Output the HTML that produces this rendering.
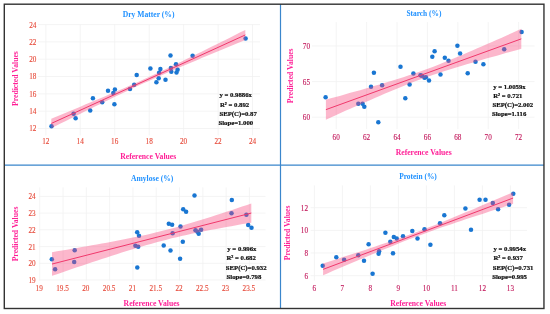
<!DOCTYPE html>
<html lang="en"><head><meta charset="utf-8"><title>Predicted vs Reference Values</title>
<style>html,body{margin:0;padding:0;background:#fff}body{width:550px;height:314px;overflow:hidden}svg{display:block}text{font-family:"Liberation Serif","DejaVu Serif",serif}.t{font-weight:bold;text-anchor:middle}.l{font-weight:bold;text-anchor:middle;font-size:7.7px}.k{font-size:7.2px;stroke-width:0.12px}.n{font-weight:bold;font-size:6.75px;fill:#111;stroke:#111;stroke-width:0.22px}</style></head><body>
<svg width="550" height="314" viewBox="0 0 550 314">
<rect width="550" height="314" fill="#fff"/>
<g transform="translate(0 0.35)">
<path d="M45.8 23.8V135M80.2 23.8V135M114.7 23.8V135M149.2 23.8V135M183.6 23.8V135M218.1 23.8V135M252.5 23.8V135M38 128.1H260M38 110.8H260M38 93.5H260M38 76.1H260M38 58.8H260M38 41.5H260M38 24.2H260" stroke="#f1f1f1" stroke-width="0.8" fill="none"/>
<g fill="#1976d2"><circle cx="51.5" cy="125.8" r="2.25"/><circle cx="73.6" cy="113.3" r="2.25"/><circle cx="75.6" cy="117.8" r="2.25"/><circle cx="90.2" cy="110.2" r="2.25"/><circle cx="92.9" cy="97.8" r="2.25"/><circle cx="102.2" cy="102" r="2.25"/><circle cx="108" cy="90.5" r="2.25"/><circle cx="113.3" cy="92.7" r="2.25"/><circle cx="114.9" cy="89.1" r="2.25"/><circle cx="114.4" cy="103.8" r="2.25"/><circle cx="130" cy="88.7" r="2.25"/><circle cx="134.2" cy="84.4" r="2.25"/><circle cx="136.7" cy="74.6" r="2.25"/><circle cx="150.4" cy="68.1" r="2.25"/><circle cx="160.4" cy="68.6" r="2.25"/><circle cx="159.1" cy="72.3" r="2.25"/><circle cx="158.7" cy="77.8" r="2.25"/><circle cx="165.5" cy="79.3" r="2.25"/><circle cx="156.4" cy="82" r="2.25"/><circle cx="170.5" cy="55.2" r="2.25"/><circle cx="170.9" cy="67.6" r="2.25"/><circle cx="171.3" cy="71.4" r="2.25"/><circle cx="176" cy="64" r="2.25"/><circle cx="177.6" cy="69.4" r="2.25"/><circle cx="176.5" cy="72.2" r="2.25"/><circle cx="192.6" cy="55.3" r="2.25"/><circle cx="245.6" cy="38.2" r="2.25"/></g>
<polygon points="51.3,118.3 56.1,116.3 61.0,114.3 65.8,112.3 70.7,110.3 75.5,108.3 80.4,106.3 85.2,104.2 90.1,102.2 94.9,100.2 99.8,98.1 104.7,96.1 109.5,94.0 114.3,91.9 119.2,89.9 124.0,87.8 128.9,85.6 133.8,83.5 138.6,81.3 143.4,79.2 148.3,76.9 153.1,74.7 158.0,72.4 162.8,70.2 167.7,67.8 172.6,65.5 177.4,63.2 182.2,60.8 187.1,58.4 191.9,56.1 196.8,53.7 201.6,51.3 206.5,48.9 211.4,46.5 216.2,44.1 221.1,41.7 225.9,39.3 230.8,36.9 235.6,34.4 240.4,32.0 245.3,29.6 245.3,39.6 240.4,41.6 235.6,43.6 230.8,45.6 225.9,47.6 221.1,49.6 216.2,51.7 211.4,53.7 206.5,55.7 201.6,57.7 196.8,59.8 191.9,61.8 187.1,63.9 182.2,65.9 177.4,68.0 172.6,70.1 167.7,72.2 162.8,74.3 158.0,76.4 153.1,78.6 148.3,80.8 143.4,83.0 138.6,85.2 133.8,87.5 128.9,89.8 124.0,92.1 119.2,94.4 114.3,96.7 109.5,99.1 104.7,101.5 99.8,103.8 94.9,106.2 90.1,108.6 85.2,111.0 80.4,113.4 75.5,115.8 70.7,118.2 65.8,120.6 61.0,123.0 56.1,125.5 51.3,127.9" fill="rgba(248,66,120,0.38)"/>
<line x1="51.3" y1="123.1" x2="245.3" y2="34.6" stroke="#f0386c" stroke-width="1.0"/>
<g class="k" fill="#e74c3c" stroke="#e74c3c">
<text x="45.8" y="143.7" text-anchor="middle">12</text>
<text x="80.2" y="143.7" text-anchor="middle">14</text>
<text x="114.7" y="143.7" text-anchor="middle">16</text>
<text x="149.2" y="143.7" text-anchor="middle">18</text>
<text x="183.6" y="143.7" text-anchor="middle">20</text>
<text x="218.1" y="143.7" text-anchor="middle">22</text>
<text x="252.5" y="143.7" text-anchor="middle">24</text>
<text x="36.4" y="131.1" text-anchor="end">12</text>
<text x="36.4" y="113.8" text-anchor="end">14</text>
<text x="36.4" y="96.5" text-anchor="end">16</text>
<text x="36.4" y="79.1" text-anchor="end">18</text>
<text x="36.4" y="61.8" text-anchor="end">20</text>
<text x="36.4" y="44.5" text-anchor="end">22</text>
<text x="36.4" y="27.2" text-anchor="end">24</text>
</g>
<text class="t" x="148.6" y="17.0" font-size="7.6" fill="#1e90ff">Dry Matter (%)</text>
<text class="l" x="148.2" y="158.9" fill="#ff1e96">Reference Values</text>
<text class="l" transform="translate(18.1 78.2) rotate(-90)" fill="#ff1e96">Predicted Values</text>
<text class="n" x="219.4" y="96.7">y = 0.9886x</text>
<text class="n" x="219.9" y="106.4">R² = 0.892</text>
<text class="n" x="219.4" y="115.3">SEP(C)=0.87</text>
<text class="n" x="218.4" y="124.4">Slope=1.000</text>
</g>
<g transform="translate(0 0.35)">
<path d="M336.2 21.7V128.7M366.6 21.7V128.7M397.0 21.7V128.7M427.4 21.7V128.7M457.8 21.7V128.7M488.2 21.7V128.7M518.6 21.7V128.7M312 116.8H534.5M312 81.2H534.5M312 45.6H534.5" stroke="#f1f1f1" stroke-width="0.8" fill="none"/>
<g fill="#1976d2"><circle cx="325.6" cy="96.8" r="2.25"/><circle cx="358.3" cy="103.5" r="2.25"/><circle cx="362.6" cy="103.5" r="2.25"/><circle cx="364.3" cy="106.3" r="2.25"/><circle cx="371" cy="86.5" r="2.25"/><circle cx="382.1" cy="84.9" r="2.25"/><circle cx="373.9" cy="72.4" r="2.25"/><circle cx="378.3" cy="121.8" r="2.25"/><circle cx="405.3" cy="98" r="2.25"/><circle cx="409.6" cy="84.2" r="2.25"/><circle cx="400.5" cy="66.5" r="2.25"/><circle cx="413.4" cy="73.1" r="2.25"/><circle cx="420.5" cy="75" r="2.25"/><circle cx="421.9" cy="75.5" r="2.25"/><circle cx="424.5" cy="77.4" r="2.25"/><circle cx="425.9" cy="76.8" r="2.25"/><circle cx="429" cy="80.1" r="2.25"/><circle cx="432.3" cy="56.3" r="2.25"/><circle cx="434.6" cy="50.8" r="2.25"/><circle cx="440.5" cy="74.1" r="2.25"/><circle cx="444.8" cy="57.5" r="2.25"/><circle cx="448.5" cy="60.5" r="2.25"/><circle cx="457.4" cy="45.4" r="2.25"/><circle cx="460.1" cy="53.2" r="2.25"/><circle cx="467.7" cy="73" r="2.25"/><circle cx="475.5" cy="61.4" r="2.25"/><circle cx="483.4" cy="64" r="2.25"/><circle cx="504.2" cy="48.8" r="2.25"/><circle cx="521.6" cy="31.7" r="2.25"/></g>
<polygon points="325.9,99.3 330.8,98.0 335.7,96.6 340.6,95.3 345.4,93.9 350.3,92.5 355.2,91.2 360.1,89.8 365.0,88.4 369.9,87.0 374.8,85.5 379.6,84.1 384.5,82.6 389.4,81.2 394.3,79.7 399.2,78.1 404.1,76.6 408.9,75.0 413.8,73.3 418.7,71.6 423.6,69.9 428.5,68.1 433.4,66.3 438.3,64.4 443.1,62.4 448.0,60.4 452.9,58.4 457.8,56.4 462.7,54.3 467.6,52.2 472.4,50.1 477.3,48.0 482.2,45.9 487.1,43.7 492.0,41.6 496.9,39.4 501.8,37.3 506.6,35.1 511.5,32.9 516.4,30.7 521.3,28.5 521.3,48.5 516.4,49.8 511.5,51.2 506.6,52.5 501.8,53.9 496.9,55.3 492.0,56.6 487.1,58.0 482.2,59.4 477.3,60.8 472.4,62.3 467.6,63.7 462.7,65.2 457.8,66.6 452.9,68.1 448.0,69.7 443.1,71.2 438.3,72.8 433.4,74.5 428.5,76.2 423.6,77.9 418.7,79.7 413.8,81.5 408.9,83.4 404.1,85.4 399.2,87.4 394.3,89.4 389.4,91.4 384.5,93.5 379.6,95.6 374.8,97.7 369.9,99.8 365.0,101.9 360.1,104.1 355.2,106.2 350.3,108.4 345.4,110.5 340.6,112.7 335.7,114.9 330.8,117.1 325.9,119.3" fill="rgba(248,66,120,0.38)"/>
<line x1="325.9" y1="109.3" x2="521.3" y2="38.5" stroke="#f0386c" stroke-width="1.0"/>
<g class="k" fill="#c2185b" stroke="#c2185b">
<text x="336.2" y="140.0" text-anchor="middle">60</text>
<text x="366.6" y="140.0" text-anchor="middle">62</text>
<text x="397.0" y="140.0" text-anchor="middle">64</text>
<text x="427.4" y="140.0" text-anchor="middle">66</text>
<text x="457.8" y="140.0" text-anchor="middle">68</text>
<text x="488.2" y="140.0" text-anchor="middle">70</text>
<text x="518.6" y="140.0" text-anchor="middle">72</text>
<text x="310.0" y="119.8" text-anchor="end">60</text>
<text x="310.0" y="84.2" text-anchor="end">65</text>
<text x="310.0" y="48.6" text-anchor="end">70</text>
</g>
<text class="t" x="423.9" y="15.7" font-size="7.4" fill="#1e90ff">Starch (%)</text>
<text class="l" x="423.7" y="154.9" fill="#ff1e96">Reference Values</text>
<text class="l" transform="translate(292.8 75.4) rotate(-90)" fill="#ff1e96">Predicted Values</text>
<text class="n" x="493.2" y="88.3">y = 1.0059x</text>
<text class="n" x="493.2" y="97.5">R² = 0.721</text>
<text class="n" x="492.4" y="106.7">SEP(C)=2.002</text>
<text class="n" x="491.9" y="115.8">Slope=1.116</text>
</g>
<g transform="translate(0 0.35)">
<path d="M39.7 187V280.3M63.0 187V280.3M86.3 187V280.3M109.6 187V280.3M132.9 187V280.3M156.2 187V280.3M179.5 187V280.3M202.8 187V280.3M226.1 187V280.3M249.4 187V280.3M38.8 279.6H265.5M38.8 262.9H265.5M38.8 246.2H265.5M38.8 229.4H265.5M38.8 212.7H265.5M38.8 196.0H265.5" stroke="#f1f1f1" stroke-width="0.8" fill="none"/>
<g fill="#1976d2"><circle cx="51.8" cy="258.8" r="2.25"/><circle cx="55.1" cy="268.8" r="2.25"/><circle cx="74.2" cy="261.6" r="2.25"/><circle cx="74.7" cy="249.9" r="2.25"/><circle cx="137.3" cy="267.1" r="2.25"/><circle cx="135.4" cy="245.4" r="2.25"/><circle cx="138.2" cy="246.4" r="2.25"/><circle cx="137.2" cy="231.9" r="2.25"/><circle cx="139" cy="235.4" r="2.25"/><circle cx="168.8" cy="223.4" r="2.25"/><circle cx="172.1" cy="224.5" r="2.25"/><circle cx="172.6" cy="232.9" r="2.25"/><circle cx="180.5" cy="226.2" r="2.25"/><circle cx="183.2" cy="208.8" r="2.25"/><circle cx="186.1" cy="211.4" r="2.25"/><circle cx="194.5" cy="195.2" r="2.25"/><circle cx="195.5" cy="230" r="2.25"/><circle cx="197.5" cy="231.5" r="2.25"/><circle cx="198.7" cy="233.4" r="2.25"/><circle cx="201.1" cy="229.4" r="2.25"/><circle cx="182.8" cy="241.5" r="2.25"/><circle cx="163.7" cy="245.2" r="2.25"/><circle cx="170.5" cy="250.1" r="2.25"/><circle cx="180.1" cy="258.5" r="2.25"/><circle cx="231.8" cy="199.6" r="2.25"/><circle cx="231.5" cy="212.9" r="2.25"/><circle cx="246.4" cy="214.4" r="2.25"/><circle cx="248.2" cy="224.7" r="2.25"/><circle cx="251.5" cy="227.3" r="2.25"/></g>
<polygon points="52.0,251.9 57.0,251.0 62.0,250.2 66.9,249.3 71.9,248.5 76.9,247.6 81.9,246.7 86.9,245.9 91.9,245.0 96.8,244.1 101.8,243.2 106.8,242.3 111.8,241.4 116.8,240.4 121.8,239.5 126.7,238.5 131.7,237.5 136.7,236.4 141.7,235.4 146.7,234.3 151.7,233.1 156.6,232.0 161.6,230.7 166.6,229.5 171.6,228.2 176.6,226.8 181.5,225.4 186.5,224.0 191.5,222.5 196.5,221.0 201.5,219.4 206.5,217.9 211.4,216.3 216.4,214.7 221.4,213.1 226.4,211.4 231.4,209.8 236.4,208.1 241.3,206.5 246.3,204.8 251.3,203.1 251.3,222.3 246.3,223.2 241.3,224.0 236.4,224.9 231.4,225.8 226.4,226.7 221.4,227.6 216.4,228.6 211.4,229.5 206.5,230.5 201.5,231.5 196.5,232.5 191.5,233.5 186.5,234.6 181.5,235.7 176.6,236.9 171.6,238.0 166.6,239.3 161.6,240.6 156.6,241.9 151.7,243.3 146.7,244.7 141.7,246.1 136.7,247.6 131.7,249.1 126.7,250.7 121.8,252.2 116.8,253.8 111.8,255.4 106.8,257.1 101.8,258.7 96.8,260.4 91.9,262.0 86.9,263.7 81.9,265.4 76.9,267.0 71.9,268.7 66.9,270.4 62.0,272.1 57.0,273.8 52.0,275.5" fill="rgba(248,66,120,0.38)"/>
<line x1="52" y1="263.7" x2="251.3" y2="212.7" stroke="#f0386c" stroke-width="1.0"/>
<g class="k" fill="#e74c3c" stroke="#e74c3c">
<text x="39.2" y="290.9" text-anchor="middle">19</text>
<text x="62.5" y="290.9" text-anchor="middle">19.5</text>
<text x="85.8" y="290.9" text-anchor="middle">20</text>
<text x="109.1" y="290.9" text-anchor="middle">20.5</text>
<text x="132.4" y="290.9" text-anchor="middle">21</text>
<text x="155.7" y="290.9" text-anchor="middle">21.5</text>
<text x="179.0" y="290.9" text-anchor="middle">22</text>
<text x="202.3" y="290.9" text-anchor="middle">22.5</text>
<text x="225.6" y="290.9" text-anchor="middle">23</text>
<text x="248.9" y="290.9" text-anchor="middle">23.5</text>
<text x="35.6" y="282.6" text-anchor="end">19</text>
<text x="35.6" y="265.9" text-anchor="end">20</text>
<text x="35.6" y="249.2" text-anchor="end">21</text>
<text x="35.6" y="232.4" text-anchor="end">22</text>
<text x="35.6" y="215.7" text-anchor="end">23</text>
<text x="35.6" y="199.0" text-anchor="end">24</text>
</g>
<text class="t" x="152.2" y="181.1" font-size="7.6" fill="#1e90ff">Amylose (%)</text>
<text class="l" x="151.6" y="305.7" fill="#ff1e96">Reference Values</text>
<text class="l" transform="translate(17.7 233.6) rotate(-90)" fill="#ff1e96">Predicted Values</text>
<text class="n" x="227.3" y="250.7">y = 0.996x</text>
<text class="n" x="226.5" y="259.9">R² = 0.682</text>
<text class="n" x="225.8" y="269.3">SEP(C)=0.932</text>
<text class="n" x="226.5" y="278.4">Slope=0.798</text>
</g>
<g transform="translate(0 0.35)">
<path d="M314.4 185V280.3M342.4 185V280.3M370.4 185V280.3M398.4 185V280.3M426.4 185V280.3M454.4 185V280.3M482.4 185V280.3M510.4 185V280.3M310.6 275.3H527M310.6 252.6H527M310.6 230.0H527M310.6 207.3H527" stroke="#f1f1f1" stroke-width="0.8" fill="none"/>
<g fill="#1976d2"><circle cx="322.7" cy="265.3" r="2.25"/><circle cx="336.3" cy="256.8" r="2.25"/><circle cx="344.1" cy="259.4" r="2.25"/><circle cx="358.3" cy="254.8" r="2.25"/><circle cx="364" cy="260.3" r="2.25"/><circle cx="368.6" cy="244" r="2.25"/><circle cx="372.6" cy="273.5" r="2.25"/><circle cx="378.6" cy="253.4" r="2.25"/><circle cx="379.1" cy="251" r="2.25"/><circle cx="385.4" cy="232.3" r="2.25"/><circle cx="390.3" cy="241.3" r="2.25"/><circle cx="393" cy="252.9" r="2.25"/><circle cx="393.8" cy="236.6" r="2.25"/><circle cx="396.7" cy="238.1" r="2.25"/><circle cx="403" cy="235.9" r="2.25"/><circle cx="412.3" cy="230.7" r="2.25"/><circle cx="417.5" cy="238.2" r="2.25"/><circle cx="424.5" cy="228.8" r="2.25"/><circle cx="430.4" cy="244.5" r="2.25"/><circle cx="440" cy="222.8" r="2.25"/><circle cx="444.3" cy="214.8" r="2.25"/><circle cx="465.4" cy="208.2" r="2.25"/><circle cx="471" cy="229.5" r="2.25"/><circle cx="479.6" cy="199.5" r="2.25"/><circle cx="485.5" cy="199.5" r="2.25"/><circle cx="492.8" cy="202.6" r="2.25"/><circle cx="498.1" cy="209" r="2.25"/><circle cx="509.1" cy="204.5" r="2.25"/><circle cx="513.3" cy="193.5" r="2.25"/></g>
<polygon points="323.1,263.2 327.9,261.7 332.6,260.1 337.4,258.6 342.1,257.0 346.9,255.5 351.6,254.0 356.4,252.4 361.1,250.8 365.9,249.3 370.6,247.7 375.4,246.1 380.1,244.5 384.9,242.9 389.6,241.3 394.4,239.7 399.1,238.0 403.9,236.4 408.6,234.7 413.4,232.9 418.1,231.1 422.9,229.4 427.6,227.5 432.4,225.7 437.1,223.8 441.9,221.9 446.6,219.9 451.4,218.0 456.1,216.0 460.9,214.0 465.6,212.0 470.4,210.1 475.1,208.1 479.9,206.0 484.6,204.0 489.4,202.0 494.1,200.0 498.9,198.0 503.6,195.9 508.4,193.9 513.1,191.9 513.1,203.5 508.4,205.0 503.6,206.6 498.9,208.1 494.1,209.7 489.4,211.2 484.6,212.8 479.9,214.3 475.1,215.9 470.4,217.4 465.6,219.0 460.9,220.6 456.1,222.2 451.4,223.8 446.6,225.4 441.9,227.0 437.1,228.7 432.4,230.3 427.6,232.1 422.9,233.8 418.1,235.6 413.4,237.3 408.6,239.2 403.9,241.0 399.1,242.9 394.4,244.8 389.6,246.8 384.9,248.7 380.1,250.7 375.4,252.7 370.6,254.6 365.9,256.6 361.1,258.6 356.4,260.6 351.6,262.7 346.9,264.7 342.1,266.7 337.4,268.7 332.6,270.7 327.9,272.8 323.1,274.8" fill="rgba(248,66,120,0.38)"/>
<line x1="323.1" y1="269" x2="513.1" y2="197.7" stroke="#f0386c" stroke-width="1.0"/>
<g class="k" fill="#c2185b" stroke="#c2185b">
<text x="314.4" y="290.9" text-anchor="middle">6</text>
<text x="342.4" y="290.9" text-anchor="middle">7</text>
<text x="370.4" y="290.9" text-anchor="middle">8</text>
<text x="398.4" y="290.9" text-anchor="middle">9</text>
<text x="426.4" y="290.9" text-anchor="middle">10</text>
<text x="454.4" y="290.9" text-anchor="middle">11</text>
<text x="482.4" y="290.9" text-anchor="middle">12</text>
<text x="510.4" y="290.9" text-anchor="middle">13</text>
<text x="308.0" y="278.3" text-anchor="end">6</text>
<text x="308.0" y="255.6" text-anchor="end">8</text>
<text x="308.0" y="233.0" text-anchor="end">10</text>
<text x="308.0" y="210.3" text-anchor="end">12</text>
</g>
<text class="t" x="418.0" y="179.0" font-size="7.45" fill="#1e90ff">Protein (%)</text>
<text class="l" x="418.2" y="305.7" fill="#ff1e96">Reference Values</text>
<text class="l" transform="translate(289.7 232.5) rotate(-90)" fill="#ff1e96">Predicted Values</text>
<text class="n" x="493.5" y="250.7">y = 0.9954x</text>
<text class="n" x="493.5" y="259.9">R² = 0.937</text>
<text class="n" x="492.7" y="269.3">SEP(C)=0.731</text>
<text class="n" x="492.2" y="278.4">Slope=0.995</text>
</g>
<path d="M280.5 4V308.5M4 165.1H544" stroke="#3a86cc" stroke-width="1.2" fill="none"/>
<rect x="4.3" y="4.2" width="539.65" height="304.3" fill="none" stroke="#333" stroke-width="1.4"/>
</svg></body></html>
